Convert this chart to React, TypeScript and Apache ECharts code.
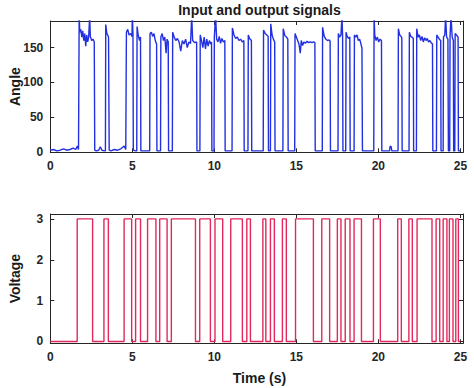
import React, { useEffect, useRef } from "react";
import * as echarts from "echarts";

// ---- Data ----
const timeTicks = [0, 5, 10, 15, 20, 25];
const angleTicks = [0, 50, 100, 150];
const voltageTicks = [0, 1, 2, 3];

// Input signal: voltage switching instants (s) and level held from each instant (V)
const voltageTimes = [
  0, 1.64, 2.58, 3.27, 3.54, 4.5, 4.96, 5.2, 5.5, 5.93, 6.44, 6.67, 7.12, 7.38, 8.85,
  9.11, 9.76, 10.04, 10.51, 11.0, 11.71, 11.98, 12.2, 12.96, 13.14, 13.42, 13.66,
  14.15, 14.39, 14.95, 16.04, 16.55, 17.03, 17.5, 17.72, 17.98, 18.27, 18.52, 18.97,
  19.7, 20.12, 21.18, 21.4, 21.86, 22.07, 22.36, 23.27, 23.52, 23.74, 23.95, 24.18,
  24.33, 24.55, 24.72, 24.88, 25.0,
];
const voltageLevels = [
  0, 3, 0, 3, 0, 3, 0, 3, 0, 3, 0, 3, 0, 3, 0,
  3, 0, 3, 0, 3, 0, 3, 0, 3, 0, 3, 0,
  3, 0, 3, 0, 3, 0, 3, 0, 3, 0, 3, 0,
  3, 0, 3, 0, 3, 0, 3, 0, 3, 0, 3, 0,
  3, 0, 3, 0, 0,
];

// Output signal: measured angle samples [time (s), angle]
const angleSamples: [number, number][] = [
  [0, 3], [0.2, 4], [0.4, 2], [0.6, 3], [0.8, 5], [1.0, 3], [1.2, 4], [1.4, 6], [1.55, 4], [1.65, 9], [1.72, 4],
  [1.74, 4], [1.76, 195], [1.8, 172], [1.86, 176], [1.92, 165], [1.98, 174], [2.04, 160], [2.1, 170], [2.16, 152], [2.22, 168], [2.28, 158], [2.34, 165], [2.4, 195], [2.44, 166], [2.52, 160], [2.6, 162], [2.68, 158], [2.71, 3],
  [2.8, 2], [2.95, 3], [3.05, 8], [3.15, 3], [3.3, 2], [3.36, 2],
  [3.38, 183], [3.45, 170], [3.55, 165], [3.59, 3],
  [3.7, 2], [3.9, 4], [4.1, 3], [4.3, 5], [4.5, 9], [4.6, 4],
  [4.62, 4], [4.64, 172], [4.72, 176], [4.8, 168], [4.9, 170], [4.98, 166], [5.0, 195], [5.04, 170], [5.06, 3],
  [5.2, 2], [5.27, 2],
  [5.29, 180], [5.36, 168], [5.44, 160], [5.5, 165], [5.52, 2],
  [5.7, 2], [6.06, 2],
  [6.08, 170], [6.16, 172], [6.24, 166], [6.32, 170], [6.4, 160], [6.48, 155], [6.5, 2],
  [6.72, 2],
  [6.74, 165], [6.82, 170], [6.9, 160], [6.98, 165], [7.06, 142], [7.12, 162], [7.19, 158], [7.21, 2],
  [7.44, 2],
  [7.46, 172], [7.55, 165], [7.65, 160], [7.75, 163], [7.85, 158], [7.95, 145], [8.05, 160], [8.15, 155], [8.25, 162], [8.35, 150], [8.45, 158], [8.55, 156], [8.62, 195], [8.68, 160], [8.8, 157], [8.92, 158], [8.94, 2],
  [9.12, 2],
  [9.14, 168], [9.22, 160], [9.3, 150], [9.38, 165], [9.46, 148], [9.54, 162], [9.62, 152], [9.7, 160], [9.78, 155], [9.83, 158], [9.85, 2],
  [9.98, 2],
  [10.0, 165], [10.08, 195], [10.14, 162], [10.22, 158], [10.3, 166], [10.38, 156], [10.46, 163], [10.55, 158], [10.64, 160], [10.66, 2],
  [11.08, 2],
  [11.1, 178], [11.2, 168], [11.3, 163], [11.4, 165], [11.5, 160], [11.6, 162], [11.7, 158], [11.8, 160], [11.82, 2],
  [12.05, 2],
  [12.07, 168], [12.15, 163], [12.26, 160], [12.28, 2],
  [12.98, 2],
  [13.0, 175], [13.1, 170], [13.2, 168], [13.28, 166], [13.3, 2],
  [13.42, 2],
  [13.44, 184], [13.52, 168], [13.6, 162], [13.68, 158], [13.7, 2],
  [14.18, 2],
  [14.2, 177], [14.3, 167], [14.4, 165], [14.48, 162], [14.5, 2],
  [14.9, 2],
  [14.92, 170], [15.0, 165], [15.08, 160], [15.16, 155], [15.24, 142], [15.3, 160], [15.38, 153], [15.46, 158], [15.55, 156], [15.65, 159], [15.75, 157], [15.85, 158], [15.95, 157], [16.05, 158], [16.13, 157], [16.15, 2],
  [16.58, 2],
  [16.6, 179], [16.7, 166], [16.8, 162], [16.9, 160], [17.0, 161], [17.06, 159], [17.08, 2],
  [17.54, 2],
  [17.56, 170], [17.64, 165], [17.72, 168], [17.78, 195], [17.82, 166], [17.84, 2],
  [18.01, 2],
  [18.03, 172], [18.1, 166], [18.18, 163], [18.26, 165], [18.28, 2],
  [18.52, 2],
  [18.54, 168], [18.62, 165], [18.7, 168], [18.78, 160], [18.86, 162], [18.94, 155], [19.0, 149], [19.03, 2],
  [19.72, 2],
  [19.74, 195], [19.78, 168], [19.86, 160], [19.94, 165], [20.02, 158], [20.1, 162], [20.19, 160], [20.21, 2],
  [20.68, 2], [20.72, 9], [20.78, 8], [20.82, 2], [21.2, 2],
  [21.22, 177], [21.3, 168], [21.38, 166], [21.43, 164], [21.45, 2],
  [21.87, 2],
  [21.89, 172], [21.97, 166], [22.05, 165], [22.13, 163], [22.15, 2],
  [22.32, 2],
  [22.34, 177], [22.42, 165], [22.5, 168], [22.58, 160], [22.66, 166], [22.74, 158], [22.82, 164], [22.9, 160], [22.98, 163], [23.06, 158], [23.14, 160], [23.22, 157], [23.3, 155], [23.32, 2],
  [23.54, 2],
  [23.56, 168], [23.64, 165], [23.72, 162], [23.8, 160], [23.82, 2],
  [23.95, 2],
  [23.97, 165], [24.05, 168], [24.1, 195], [24.16, 165], [24.24, 162], [24.27, 2],
  [24.35, 2],
  [24.37, 166], [24.43, 195], [24.5, 165], [24.57, 160], [24.59, 2],
  [24.66, 2],
  [24.68, 170], [24.76, 168], [24.86, 165], [24.88, 2],
  [25.0, 2],
];

const FONT = "'Liberation Sans', Arial, Helvetica, sans-serif";
const AXIS_COLOR = "#262626";

export default function App() {
  const ref = useRef<HTMLDivElement>(null);

  useEffect(() => {
    if (!ref.current) return;
    const chart = echarts.init(ref.current, undefined, { renderer: "svg" });

    const voltageData = voltageTimes.map((t, i) => [t, voltageLevels[i]]);

    const xRange = { min: 0, max: 25.16 };
    const mkX = (grid: number, bottom: boolean) => ({
      type: "value",
      gridIndex: grid,
      position: bottom ? "bottom" : "top",
      ...xRange,
      axisLine: { show: true, onZero: false, lineStyle: { color: AXIS_COLOR, width: 1 } },
      axisTick: {
        show: true,
        inside: true,
        length: 4,
        customValues: timeTicks,
        lineStyle: { color: AXIS_COLOR },
      },
      axisLabel: bottom
        ? {
            show: true,
            customValues: timeTicks,
            margin: 8,
            color: AXIS_COLOR,
            fontSize: 12,
            fontWeight: "bold",
            fontFamily: FONT,
          }
        : { show: false },
      splitLine: { show: false },
    });
    const mkY = (grid: number, left: boolean, min: number, max: number, ticks: number[]) => ({
      type: "value",
      gridIndex: grid,
      position: left ? "left" : "right",
      min,
      max,
      axisLine: { show: true, onZero: false, lineStyle: { color: AXIS_COLOR, width: 1 } },
      axisTick: {
        show: true,
        inside: true,
        length: 4,
        customValues: ticks,
        lineStyle: { color: AXIS_COLOR },
      },
      axisLabel: left
        ? {
            show: true,
            customValues: ticks,
            margin: 7,
            color: AXIS_COLOR,
            fontSize: 12,
            fontWeight: "bold",
            fontFamily: FONT,
          }
        : { show: false },
      splitLine: { show: false },
    });

    chart.setOption({
      animation: false,
      backgroundColor: "#ffffff",
      grid: [
        { left: 50.3, top: 21, width: 412.7, height: 131.3, containLabel: false },
        { left: 50.3, top: 214, width: 412.7, height: 129.3, containLabel: false },
      ],
      xAxis: [mkX(0, true), mkX(0, false), mkX(1, true), mkX(1, false)],
      yAxis: [
        mkY(0, true, 0, 188, angleTicks),
        mkY(0, false, 0, 188, angleTicks),
        mkY(1, true, -0.045, 3.12, voltageTicks),
        mkY(1, false, -0.045, 3.12, voltageTicks),
      ],
      series: [
        {
          type: "line",
          xAxisIndex: 0,
          yAxisIndex: 0,
          data: angleSamples,
          showSymbol: false,
          clip: true,
          lineStyle: { color: "#2230e0", width: 1.4 },
        },
        {
          type: "line",
          xAxisIndex: 2,
          yAxisIndex: 2,
          data: voltageData,
          step: "end",
          showSymbol: false,
          clip: true,
          lineStyle: { color: "#e2285c", width: 1.4 },
        },
      ],
      graphic: [
        {
          type: "text",
          x: 259.5,
          y: 9.5,
          style: {
            text: "Input and output signals",
            fill: "#1a1a1a",
            font: `bold 14px ${FONT}`,
            align: "center",
            verticalAlign: "middle",
          },
        },
        {
          type: "text",
          x: 15,
          y: 86.6,
          rotation: Math.PI / 2,
          style: {
            text: "Angle",
            fill: "#1a1a1a",
            font: `bold 14px ${FONT}`,
            align: "center",
            verticalAlign: "middle",
          },
        },
        {
          type: "text",
          x: 15,
          y: 278.6,
          rotation: Math.PI / 2,
          style: {
            text: "Voltage",
            fill: "#1a1a1a",
            font: `bold 14px ${FONT}`,
            align: "center",
            verticalAlign: "middle",
          },
        },
        {
          type: "text",
          x: 259.5,
          y: 377.5,
          style: {
            text: "Time (s)",
            fill: "#1a1a1a",
            font: `bold 14px ${FONT}`,
            align: "center",
            verticalAlign: "middle",
          },
        },
      ],
    });

    return () => chart.dispose();
  }, []);

  return (
    <div
      ref={ref}
      style={{ position: "fixed", left: 0, top: 0, width: 474, height: 388, background: "#fff" }}
    />
  );
}
